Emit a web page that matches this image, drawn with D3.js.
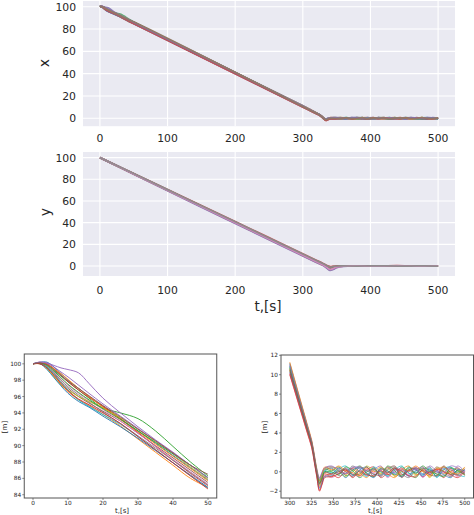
<!DOCTYPE html>
<html><head><meta charset="utf-8">
<script src="https://cdn.jsdelivr.net/npm/d3@7/dist/d3.min.js"></script>
<style>html,body{margin:0;padding:0;background:#fff;}svg{display:block;font-family:"DejaVu Sans",sans-serif;}</style>
</head><body>
<script>
// ---------- DATA ----------
const earlyT = [0,2,4,6,8,10,13,16,20,25,30,35,40,45,50];
const earlyX = [
 [100,100.2,100.2,99.6,98.8,98.0,97.0,96.0,94.8,93.3,91.8,90.3,88.8,87.3,85.8],
 [100,100.0,99.5,98.5,97.5,96.6,95.6,94.9,93.8,92.4,90.8,89.2,87.6,86.0,84.9],
 [100,100.1,99.9,99.2,98.5,97.8,96.8,95.8,94.6,94.0,93.3,91.8,89.9,88.0,86.3],
 [100,100.1,100.0,99.4,98.6,97.8,96.8,95.9,94.8,93.3,91.6,89.9,88.2,86.6,85.1],
 [100,100.2,100.1,99.8,99.5,99.3,98.9,97.6,95.8,94.0,92.3,90.7,89.2,87.6,86.0],
 [100,100.1,99.6,98.8,97.8,97.0,96.0,95.2,94.2,93.0,91.5,90.0,88.5,87.0,85.5],
 [100,100.2,99.8,99.0,98.2,97.4,96.4,95.5,94.4,93.0,91.5,89.9,88.3,86.8,85.3],
 [100,100.1,99.7,98.9,98.0,97.2,96.2,95.3,94.1,92.7,91.2,89.7,88.2,86.7,85.2],
 [100,100.0,99.4,98.4,97.4,96.8,96.0,95.4,94.6,93.4,92.0,90.5,89.0,87.4,85.9],
 [100,100.1,99.6,98.7,97.7,96.8,95.6,94.8,93.8,92.6,91.1,89.5,87.9,86.3,84.8],
 [100,100.0,99.3,98.3,97.3,96.4,95.4,94.7,93.6,92.3,90.9,89.4,87.9,86.4,84.9],
 [100,100.1,99.9,99.4,98.8,98.1,97.0,96.0,94.7,93.2,91.7,90.2,88.7,87.2,85.7],
 [100,100.1,99.8,99.1,98.3,97.5,96.5,95.6,94.5,93.2,91.8,90.4,89.0,87.6,86.1],
 [100,100.0,99.5,98.6,97.6,96.7,95.7,95.0,94.0,92.7,91.1,89.5,87.9,86.3,84.7],
 [100,100.2,100.1,99.6,99.0,98.4,97.4,96.4,95.1,93.6,92.1,90.6,89.1,87.6,86.1],
 [100,100.1,99.9,99.3,98.6,97.9,97.0,96.1,94.9,93.5,92.0,90.6,89.1,87.6,86.5]
];
const lateT = [300,305,310,315,320,325,328,331,334,337,340,348,356,364,372,380,388,396,404,412,420,428,436,444,452,460,468,476,484,492,500];
const lateX = [
 [11.2,9.6,8.0,6.4,4.8,3.1,1.6,0.0,-1.2,-0.6,0.1, 0.4,-0.2,0.3,-0.4,0.2,0.5,-0.3,0.1,-0.5,0.3,0.0,-0.4,0.4,-0.2,0.3,-0.5,0.2,0.4,-0.1,0.2],
 [10.4,8.9,7.4,5.9,4.4,2.9,1.4,-0.2,-1.5,-0.9,-0.2, -0.5,0.2,-0.3,0.4,-0.1,-0.6,0.3,-0.2,0.5,-0.4,0.2,0.6,-0.3,0.1,-0.5,0.3,-0.2,0.0,0.4,-0.3],
 [10.8,9.2,7.7,6.1,4.6,3.0,1.5,0.1,-0.9,-0.2,0.3, 0.1,0.5,-0.4,0.0,0.6,-0.2,-0.5,0.4,0.1,-0.3,0.5,-0.1,-0.6,0.3,0.2,-0.4,0.5,-0.3,0.1,-0.2],
 [10.0,8.5,7.0,5.5,4.0,2.5,1.0,-0.6,-1.9,-1.2,-0.4, -0.3,-0.6,0.1,0.3,-0.4,0.2,0.5,-0.6,-0.1,0.4,-0.3,0.1,0.3,-0.5,0.0,0.2,-0.6,0.3,-0.4,0.1],
 [11.0,9.4,7.8,6.3,4.7,3.2,1.8,0.3,-0.6,-0.1,0.4, 0.6,0.1,-0.2,0.5,0.3,-0.4,0.2,0.6,-0.3,0.0,0.4,-0.5,0.2,0.5,-0.2,0.1,0.3,-0.4,0.6,0.0],
 [10.6,9.0,7.5,6.0,4.5,2.9,1.4,-0.1,-1.3,-0.7,0.0, -0.2,0.4,0.0,-0.5,0.5,0.1,-0.2,-0.4,0.3,0.6,-0.5,0.2,-0.1,0.4,-0.3,0.5,0.0,-0.5,0.2,-0.4],
 [10.2,8.7,7.2,5.7,4.2,2.7,1.2,-0.4,-1.6,-1.0,-0.3, -0.6,-0.1,0.4,-0.2,-0.5,0.3,-0.1,0.2,-0.6,0.1,0.3,-0.3,0.5,-0.6,0.2,-0.1,0.4,0.2,-0.5,0.3],
 [11.1,9.5,7.9,6.3,4.7,3.1,1.6,0.0,-1.0,-0.4,0.2, 0.3,-0.4,-0.1,0.6,0.0,-0.3,0.4,-0.5,0.2,0.5,-0.2,-0.6,0.1,0.3,0.5,-0.3,-0.4,0.1,0.3,-0.1],
 [10.5,8.9,7.4,5.9,4.3,2.8,1.3,-0.3,-1.4,-0.5,0.3, 0.5,0.0,-0.5,0.2,-0.3,0.6,0.1,-0.1,0.4,-0.5,0.0,0.3,-0.4,0.2,-0.6,0.4,0.1,-0.2,0.0,0.4],
 [10.9,9.3,7.7,6.2,4.6,3.0,1.5,0.1,-0.8,-0.3,0.1, -0.1,0.3,0.6,-0.3,0.1,-0.5,0.5,0.0,-0.4,0.2,0.6,-0.2,0.0,-0.4,0.4,-0.6,0.3,0.5,-0.3,-0.5],
 [10.3,8.8,7.3,5.8,4.3,2.8,1.3,-0.3,-1.7,-1.1,-0.5, -0.4,0.1,-0.6,0.2,0.4,-0.1,-0.6,0.3,0.0,-0.2,-0.5,0.4,0.2,-0.3,0.1,0.0,-0.3,-0.6,0.2,0.1],
 [11.3,9.7,8.1,6.5,4.9,3.3,1.8,0.2,-0.9,-0.2,0.5, 0.2,0.6,0.1,-0.1,-0.4,0.4,0.0,0.5,-0.2,-0.6,0.3,0.1,0.6,0.0,-0.4,0.2,0.5,0.0,-0.2,0.5],
 [10.7,9.1,7.6,6.0,4.5,3.0,1.5,-0.1,-1.1,-0.6,0.0, 0.0,-0.3,0.5,0.1,-0.6,0.0,0.3,-0.3,0.6,0.1,-0.4,0.5,-0.2,0.6,0.0,-0.2,-0.5,0.4,0.1,-0.3],
 [10.1,8.6,7.1,5.6,4.1,2.6,1.1,-0.5,-2.0,-1.3,-0.6, -0.5,-0.2,0.2,-0.6,0.1,-0.3,-0.4,0.1,-0.3,0.3,0.1,-0.4,-0.5,0.2,-0.1,0.3,0.0,-0.3,-0.6,0.0],
 [10.9,9.3,7.8,6.2,4.7,3.1,1.6,0.0,-0.7,0.0,0.4, 0.5,0.3,-0.2,0.4,0.5,0.1,0.2,-0.4,0.5,-0.1,0.2,0.0,0.3,-0.5,0.6,0.1,-0.1,0.6,0.4,-0.2],
 [10.5,9.0,7.5,6.0,4.4,2.9,1.4,-0.2,-1.2,-0.8,-0.1, -0.2,0.0,0.3,-0.3,-0.2,0.5,-0.5,0.3,-0.1,0.4,-0.6,0.2,0.4,0.1,-0.3,-0.4,0.6,-0.1,-0.3,0.3]
];
const yT = [0,50,100,150,200,250,300,320,330,335,340,345,350,360,380,400,420,440,460,480,500];
const yVals = [
 [100,85.2,70.3,55.4,40.5,25.6,10.7,4.8,1.8,0.2,-1.5,-0.8,-0.2,0.1,-0.2,0.2,0.0,-0.1,0.2,-0.1,0.0],
 [100,84.8,69.7,54.6,39.6,24.6,9.6,3.6,0.6,-1.5,-3.6,-2.8,-1.2,-0.2,0.2,-0.1,0.2,0.1,-0.2,0.2,0.0],
 [100,85.0,70.0,55.0,40.1,25.1,10.2,4.2,1.2,-0.6,-2.8,-1.9,-0.7,0.1,0.0,0.2,-0.2,0.2,0.0,-0.1,0.1],
 [100,85.4,70.6,55.8,41.0,26.2,11.3,5.4,2.4,0.8,-0.4,-0.1,0.2,-0.1,0.1,-0.2,0.1,0.3,-0.1,0.1,-0.1],
 [100,84.6,69.4,54.3,39.3,24.3,9.3,3.3,0.4,-1.8,-4.0,-3.2,-1.6,-0.4,0.1,0.2,-0.1,0.0,0.2,-0.2,0.1],
 [100,85.1,70.2,55.3,40.4,25.4,10.5,4.5,1.5,-0.2,-2.0,-1.3,-0.4,0.2,-0.1,0.0,0.2,-0.2,0.1,0.2,0.0],
 [100,84.9,69.9,54.9,39.9,24.9,9.9,3.9,0.9,-1.0,-3.2,-2.3,-0.9,0.0,0.2,-0.2,0.0,0.2,-0.1,0.0,0.1],
 [100,85.3,70.5,55.6,40.8,25.9,11.0,5.1,2.1,0.5,-0.9,-0.4,0.0,0.1,-0.1,0.1,0.2,-0.1,0.0,0.2,-0.1]
];
const topXTicks = [0,100,200,300,400,500];
const topYTicks = [0,20,40,60,80,100];
const blXTicks = [0,10,20,30,40,50];
const blYTicks = [84,86,88,90,92,94,96,98,100];
const brXTicks = [300,325,350,375,400,425,450,475,500];
const brYTicks = [-2,0,2,4,6,8,10,12];
const labels = {top1Y:"x", top2Y:"y", topX:"t,[s]", botY:"[m]", botX:"t,[s]"};

// ---------- STYLE ----------
const tab10 = ["#1f77b4","#ff7f0e","#2ca02c","#d62728","#9467bd","#8c564b","#e377c2","#7f7f7f","#bcbd22","#17becf"];
const deep = ["#4C72B0","#DD8452","#55A868","#C44E52","#8172B3","#937860","#DA8BC3","#8C8C8C","#CCB974","#64B5CD"];
const fmt = v => String(v).replace("-", "\u2212");

const svg = d3.select("body").append("svg").attr("width",474).attr("height",515);

function pairs(ts, vs){ return ts.map((t,i)=>[t, vs[i]]); }

// ---------- TOP (seaborn darkgrid) ----------
function topPanel(cfg){
  const x = d3.scaleLinear().domain([-25,525]).range([83,455]);
  const y = d3.scaleLinear().domain(cfg.ydom).range(cfg.yr);
  const g = svg.append("g");
  g.append("rect").attr("x",83).attr("y",cfg.yr[1]).attr("width",372).attr("height",cfg.yr[0]-cfg.yr[1]).attr("fill","#EAEAF2");
  g.selectAll("line.gx").data(topXTicks).join("line").attr("x1",d=>x(d)).attr("x2",d=>x(d))
    .attr("y1",cfg.yr[1]).attr("y2",cfg.yr[0]).attr("stroke","#fff").attr("stroke-width",1.1);
  g.selectAll("line.gy").data(topYTicks).join("line").attr("class","gy").attr("x1",83).attr("x2",455)
    .attr("y1",d=>y(d)).attr("y2",d=>y(d)).attr("stroke","#fff").attr("stroke-width",1.1);
  const line = d3.line().x(d=>x(d[0])).y(d=>y(d[1])).curve(d3.curveCatmullRom);
  g.selectAll("path.s").data(cfg.series).join("path").attr("d",d=>line(d)).attr("fill","none")
    .attr("stroke",(d,i)=>deep[i%10]).attr("stroke-width",1.7).attr("stroke-linejoin","round").attr("opacity",0.9);
  g.selectAll("text.yt").data(topYTicks).join("text").attr("x",76).attr("y",d=>y(d)+3.9)
    .attr("text-anchor","end").attr("font-size",10.8).attr("fill","#262626").text(fmt);
  g.selectAll("text.xt").data(topXTicks).join("text").attr("x",d=>x(d)).attr("y",cfg.xty)
    .attr("text-anchor","middle").attr("font-size",10.8).attr("fill","#262626").text(fmt);
  g.append("text").attr("transform",`translate(${cfg.lx},${cfg.ly}) rotate(-90)`).attr("text-anchor","middle")
    .attr("dominant-baseline","central").attr("font-size",14).attr("fill","#262626").text(cfg.label);
}
const xSeriesTop = earlyX.map((e,i)=>pairs(earlyT,e).concat(pairs(lateT,lateX[i])));
topPanel({ydom:[-7.1,105.1], yr:[126.2,1], series:xSeriesTop, xty:142, lx:44, ly:63, label:labels.top1Y});
topPanel({ydom:[-9.2,105.2], yr:[276,152], series:yVals.map(v=>pairs(yT,v)), xty:294, lx:45, ly:212, label:labels.top2Y});
svg.append("text").attr("x",268).attr("y",311).attr("text-anchor","middle").attr("font-size",13.5).attr("fill","#262626").text(labels.topX);

// ---------- BOTTOM (matplotlib default) ----------
function botPanel(cfg){
  const x = d3.scaleLinear().domain(cfg.xdom).range(cfg.xr);
  const y = d3.scaleLinear().domain(cfg.ydom).range(cfg.yr);
  const g = svg.append("g");
  const line = d3.line().x(d=>x(d[0])).y(d=>y(d[1])).curve(d3.curveCatmullRom);
  g.selectAll("path.s").data(cfg.series).join("path").attr("d",d=>line(d)).attr("fill","none")
    .attr("stroke",(d,i)=>tab10[i%10]).attr("stroke-width",cfg.lw);
  g.append("rect").attr("x",cfg.xr[0]).attr("y",cfg.yr[1]).attr("width",cfg.xr[1]-cfg.xr[0]).attr("height",cfg.yr[0]-cfg.yr[1])
    .attr("fill","none").attr("stroke","#555").attr("stroke-width",1);
  g.selectAll("line.xt").data(cfg.xt).join("line").attr("x1",d=>x(d)).attr("x2",d=>x(d))
    .attr("y1",cfg.yr[0]).attr("y2",cfg.yr[0]+2).attr("stroke","#444").attr("stroke-width",0.6);
  g.selectAll("line.yt").data(cfg.yt).join("line").attr("class","yt").attr("x1",cfg.xr[0]-2).attr("x2",cfg.xr[0])
    .attr("y1",d=>y(d)).attr("y2",d=>y(d)).attr("stroke","#444").attr("stroke-width",0.6);
  g.selectAll("text.xtl").data(cfg.xt).join("text").attr("x",d=>x(d)).attr("y",cfg.yr[0]+7.3)
    .attr("text-anchor","middle").attr("font-size",5.8).attr("fill","#222").text(fmt);
  g.selectAll("text.ytl").data(cfg.yt).join("text").attr("class","ytl").attr("x",cfg.xr[0]-3).attr("y",d=>y(d)+2.1)
    .attr("text-anchor","end").attr("font-size",5.8).attr("fill","#222").text(fmt);
  g.append("text").attr("transform",`translate(${cfg.lx},427) rotate(-90)`).attr("text-anchor","middle")
    .attr("dominant-baseline","central").attr("font-size",7).attr("fill","#222").text(labels.botY);
  g.append("text").attr("x",cfg.tx).attr("y",512.5).attr("text-anchor","middle").attr("font-size",7).attr("fill","#222").text(labels.botX);
}
botPanel({xdom:[-2.5,52.5], xr:[24.25,216.75], ydom:[83.6,101.2], yr:[498,354], series:earlyX.map(v=>pairs(earlyT,v)),
  xt:blXTicks, yt:blYTicks, lw:0.9, lx:5, tx:122});
botPanel({xdom:[290,510], xr:[281,473.5], ydom:[-2.7,12.03], yr:[498,355], series:lateX.map(v=>pairs(lateT,v)),
  xt:brXTicks, yt:brYTicks, lw:0.7, lx:265, tx:375});
</script>
</body></html>
